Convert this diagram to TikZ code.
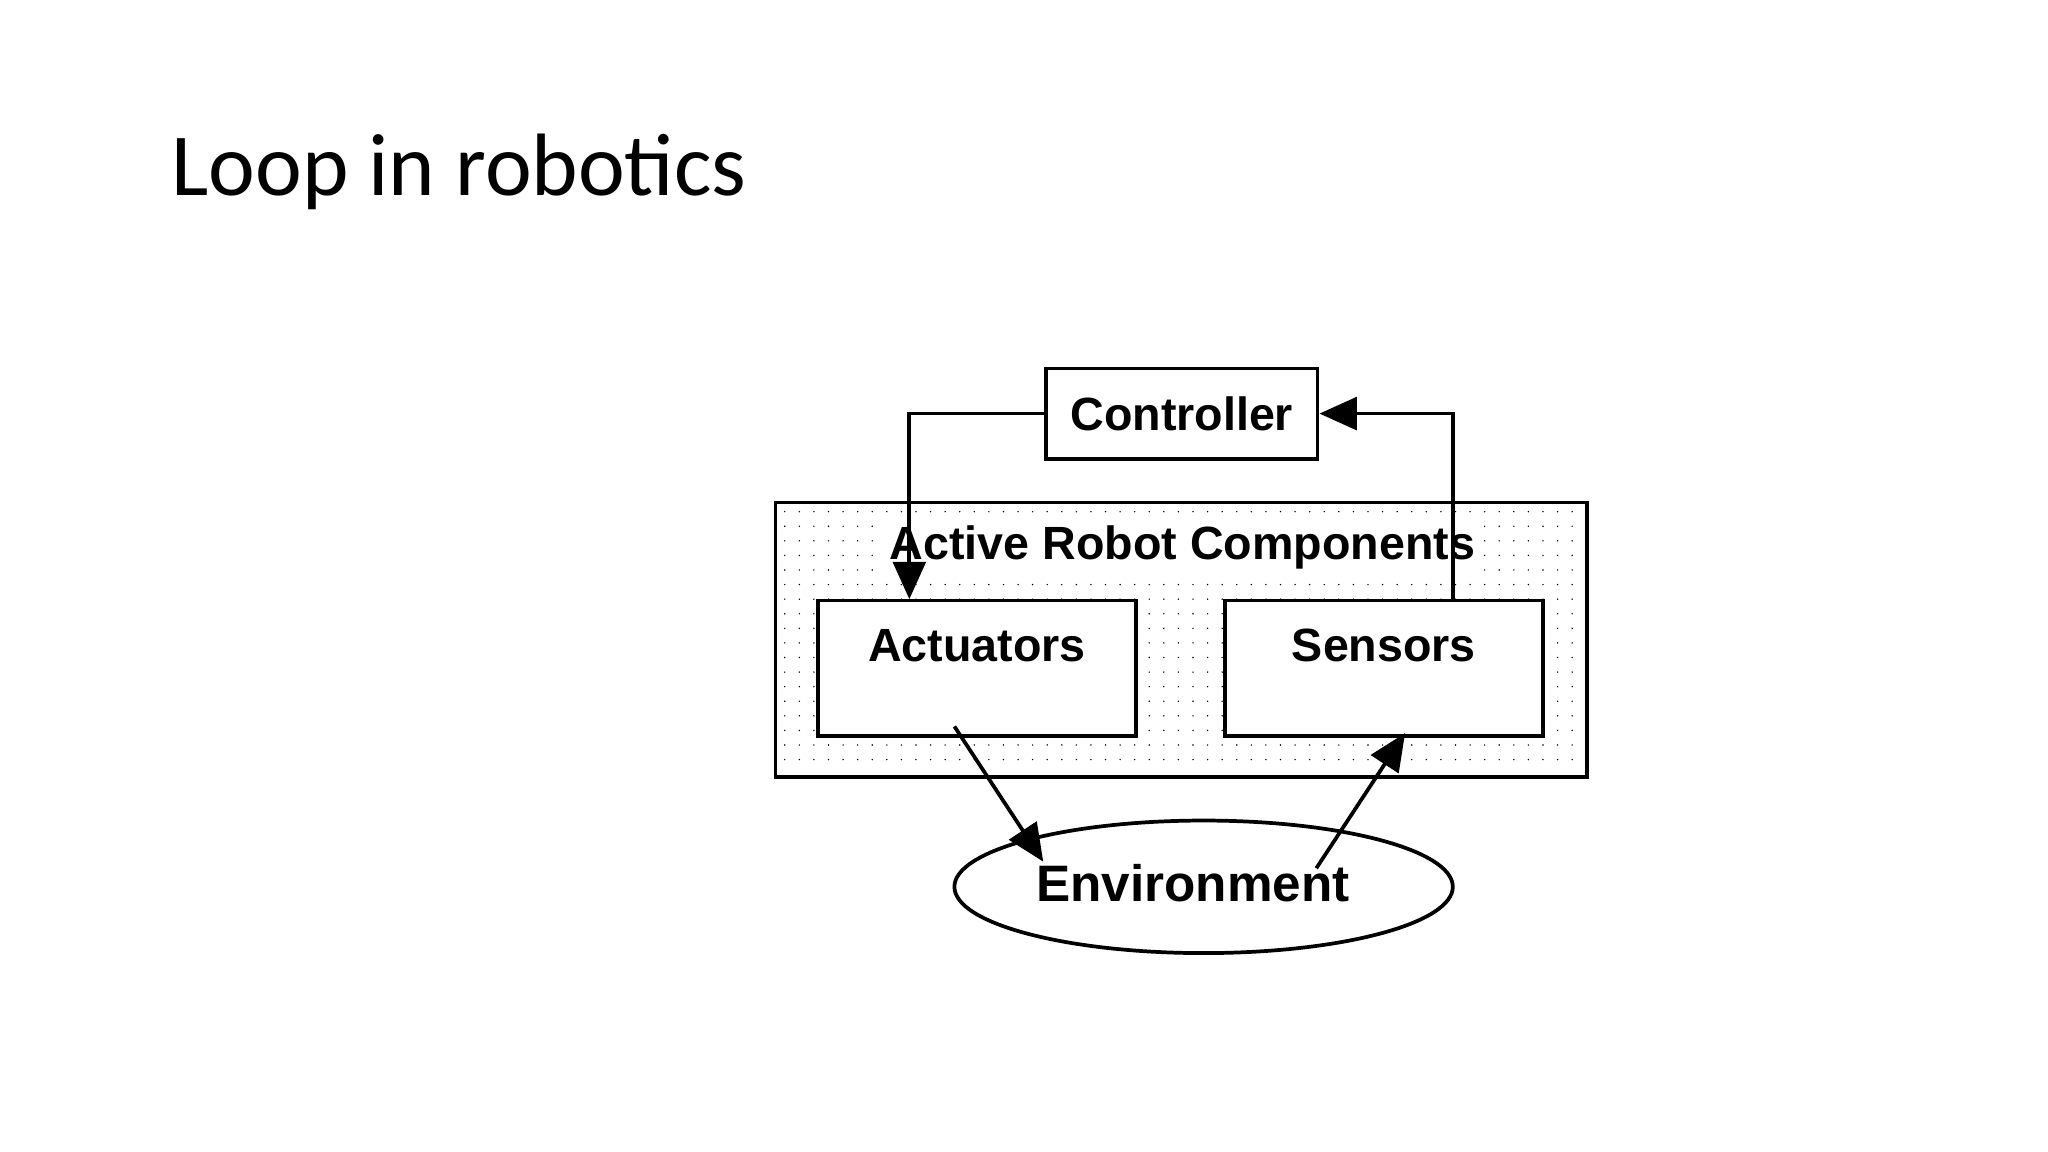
\documentclass[tikz,border=0pt]{standalone}
\usepackage{fontspec}
\setmainfont{Liberation Sans}
\newfontfamily\titlefont{Carlito}
\usetikzlibrary{arrows.meta,shapes.geometric}
\begin{document}
\begin{tikzpicture}[x=0.01cm,y=-0.01cm,
  box/.style={draw,thick,fill=white,inner sep=0pt},
  lbl/.style={font=\fontsize{10}{12}\selectfont\bfseries},
  arr/.style={thick,-{Triangle[length=8pt,width=7pt]}}]
\useasboundingbox (0,0) rectangle (1545,869);
\node[anchor=west,font=\titlefont\fontsize{19}{22}\selectfont] (title) at (117,130) {Loop in robotics};
% dotted region
\node[draw,thick,minimum width=612*0.01cm,minimum height=207*0.01cm,inner sep=0pt] (arc) at (891,482.5) {};
\foreach \x in {592,603,...,1192}{\foreach \y in {386,397,...,582}{\fill (\x,\y) circle (0.6);}}
\node[lbl,fill=white,inner sep=1pt] (arclbl) at (892,413) {Active Robot Components};
\node[box,minimum width=205*0.01cm,minimum height=68*0.01cm] (ctrl) at (891.5,312) {};
\node[lbl] at (ctrl) {Controller};
\node[box,minimum width=240*0.01cm,minimum height=102*0.01cm] (act) at (737,504) {};
\node[lbl] at (737,487) {Actuators};
\node[box,minimum width=240*0.01cm,minimum height=102*0.01cm] (sen) at (1044,504) {};
\node[lbl] at (1044,487) {Sensors};
\node[draw,thick,ellipse,minimum width=376*0.01cm,minimum height=100*0.01cm,inner sep=0pt] (env) at (908,669) {};
\node[lbl,font=\fontsize{11}{13}\selectfont\bfseries] at (900,666) {Environment};
\coordinate (c1) at (686,312);
\coordinate (c2) at (1096,312);
\draw[arr] (ctrl.west) -- (c1) -- (686,452);
\draw[arr] (1096,453) -- (c2) -- (ctrl.east);
\draw[arr] (720,548) -- (787,650);
\draw[arr] (993,655) -- (1060,553);
\end{tikzpicture}
\end{document}
